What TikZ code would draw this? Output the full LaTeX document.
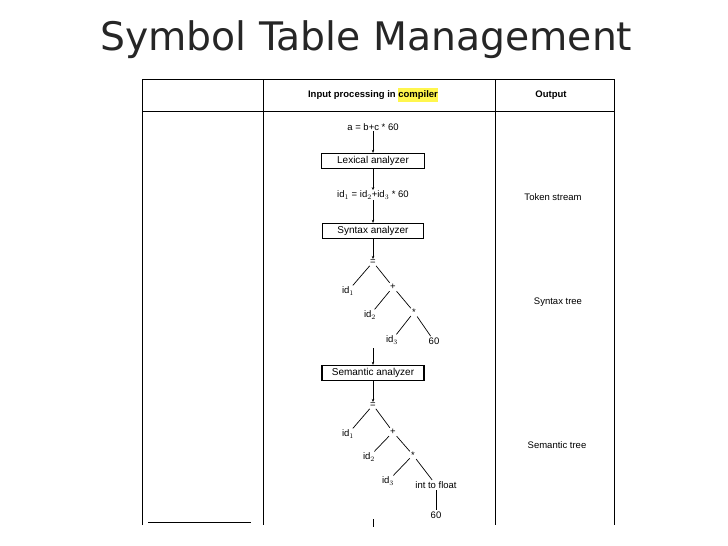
\documentclass[tikz,border=0pt]{standalone}
\usepackage{fontspec}
\setmainfont{Liberation Sans}
\newfontfamily\titlefont{DejaVu Sans}
\usetikzlibrary{arrows.meta}
\begin{document}
\begin{tikzpicture}[x=1pt,y=-1pt,
  txt/.style={inner sep=0.5pt,font=\fontsize{9.5}{10}\selectfont},
  hd/.style={font=\fontsize{9.5}{11}\selectfont\bfseries,inner sep=1pt},
  box/.style={draw,line width=1.3pt,minimum height=15pt,inner sep=1pt,font=\fontsize{10}{11}\selectfont},
  arr/.style={-{Stealth[length=3pt,width=2.5pt]},line width=0.5pt},
  edge/.style={line width=0.7pt,shorten <=1pt,shorten >=1pt}]
\useasboundingbox (0,0) rectangle (728,546);
\node[anchor=west,inner sep=0,text=black!85] (title) at (100,40) {\resizebox{532pt}{!}{\titlefont Symbol Table Management}};
% table
\draw[line width=1pt] (142,525) -- (142,79) -- (614,79) -- (614,525);
\draw[line width=0.8pt] (263,79) -- (263,525) (495,79) -- (495,525);
\draw[line width=0.8pt] (142,111) -- (614,111);
\draw[line width=1pt] (148,522) -- (251,522);
\node[hd] (h1) at (373,95) {Input processing in \colorbox{yellow!70}{\kern-3pt compiler\kern-3pt}};
\node[hd] (h2) at (551,95) {Output};
% flow
\node[txt] (src) at (373,127) {a = b+c * 60};
\node[box,minimum width=103pt] (lex) at (373,161) {Lexical analyzer};
\node[txt] (tok) at (373,195) {id$_1$ = id$_2$+id$_3$ * 60};
\node[box,minimum width=101pt] (syn) at (373,231) {Syntax analyzer};
\node[txt] (e1) at (373,262) {=};
\node[txt] (a1) at (348,291) {id$_1$};
\node[txt] (p1) at (393,287) {+};
\node[txt] (b1) at (370,315) {id$_2$};
\node[txt] (m1) at (414,312) {*};
\node[txt] (c1) at (392,340) {id$_3$};
\node[txt] (s1) at (434,341) {60};
\node[box,minimum width=102pt] (sem) at (373,373) {Semantic analyzer};
\node[txt] (e2) at (373,405) {=};
\node[txt] (a2) at (348,434) {id$_1$};
\node[txt] (p2) at (393,432) {+};
\node[txt] (b2) at (369,457) {id$_2$};
\node[txt] (m2) at (413,455) {*};
\node[txt] (c2) at (388,481) {id$_3$};
\node[txt] (f2) at (436,485) {int to float};
\node[txt] (s2) at (436,515) {60};
\coordinate (bot) at (373,527);
\coordinate (botstart) at (373,519);
\node[txt] (o1) at (553,197) {Token stream};
\node[txt] (o2) at (558,302) {Syntax tree};
\node[txt] (o3) at (557,445) {Semantic tree};
\draw[arr] (src) -- (lex);
\draw[arr] (lex) -- (tok);
\draw[arr] (tok) -- (syn);
\draw[arr] (syn) -- (e1);
\draw[edge] (e1) -- (a1); \draw[edge] (e1) -- (p1);
\draw[edge] (p1) -- (b1); \draw[edge] (p1) -- (m1);
\draw[edge] (m1) -- (c1); \draw[edge] (m1) -- (s1);
\draw[arr] (373,348) -- (sem);
\draw[arr] (sem) -- (e2);
\draw[edge] (e2) -- (a2); \draw[edge] (e2) -- (p2);
\draw[edge] (p2) -- (b2); \draw[edge] (p2) -- (m2);
\draw[edge] (m2) -- (c2); \draw[edge] (m2) -- (f2);
\draw[edge] (f2) -- (s2);
\draw[line width=0.5pt] (botstart) -- (bot);
\end{tikzpicture}
\end{document}
